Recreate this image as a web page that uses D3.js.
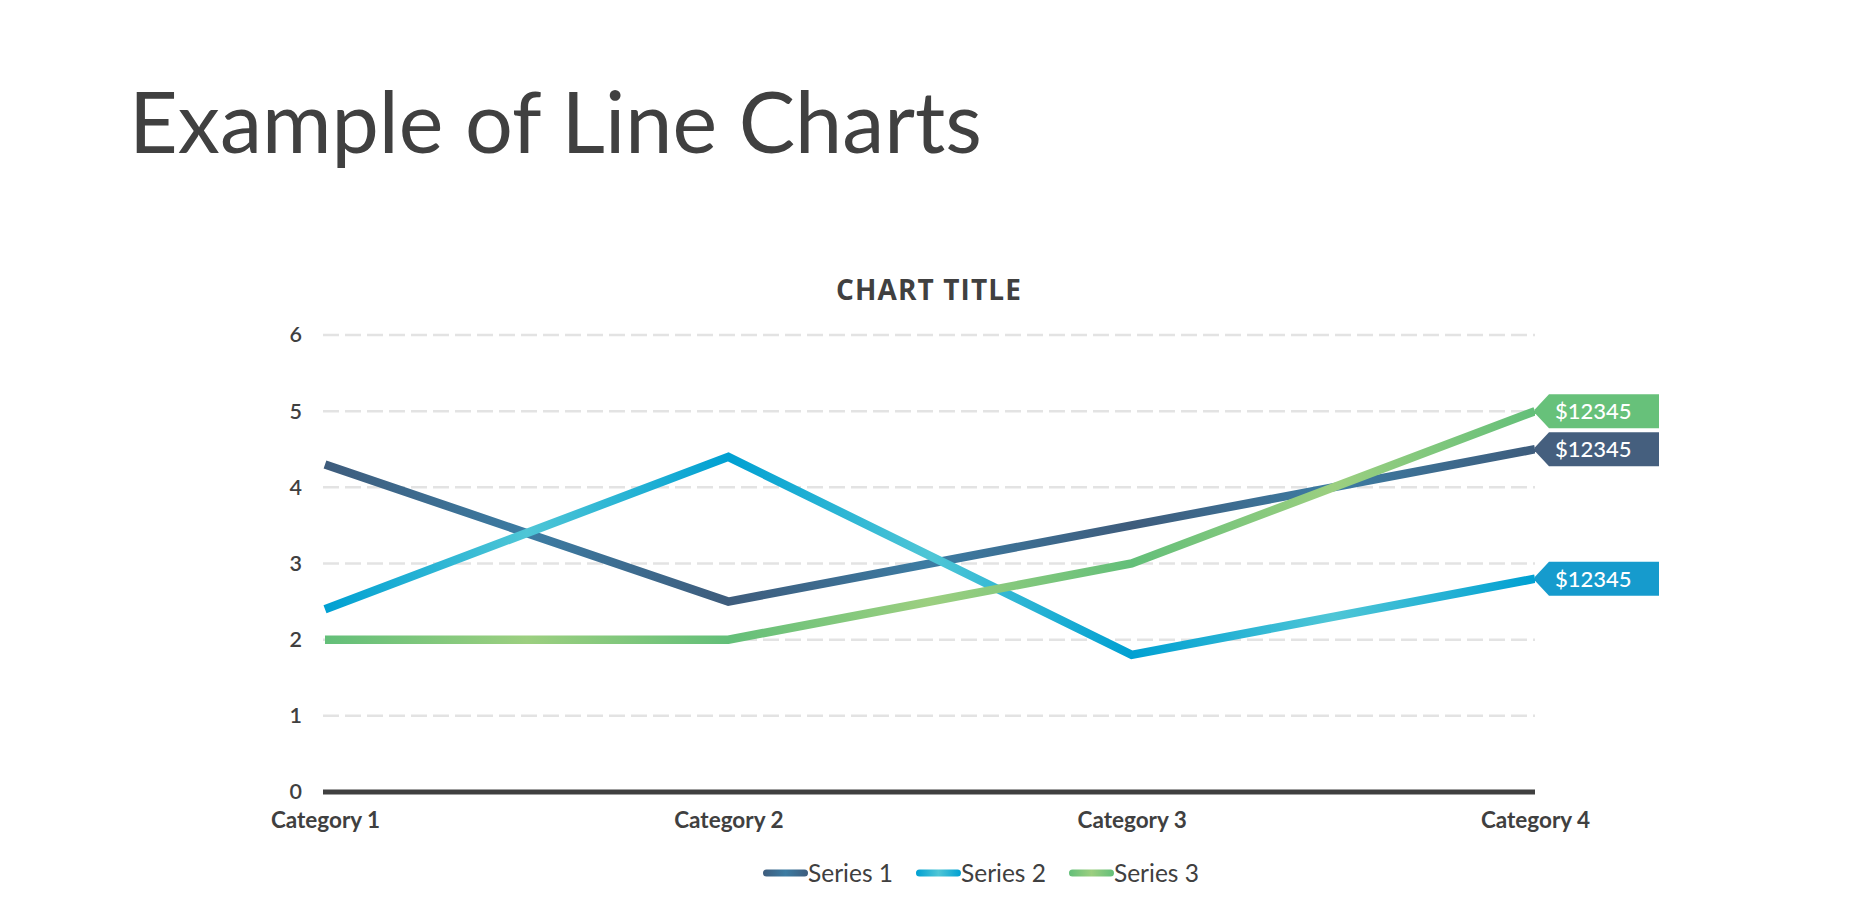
<!DOCTYPE html>
<html>
<head>
<meta charset="utf-8">
<script src="https://cdn.jsdelivr.net/npm/d3@7"></script>
<style>
  html, body { margin: 0; padding: 0; background: #ffffff; }
  svg { display: block; }
</style>
</head>
<body>
<svg id="chart" width="1863" height="908"></svg>
<script>
// ---- data ----
const pageTitle = "Example of Line Charts";
const chartTitle = "CHART TITLE";
const categories = ["Category 1", "Category 2", "Category 3", "Category 4"];
const seriesNames = ["Series 1", "Series 2", "Series 3"];
const series1 = [4.3, 2.5, 3.5, 4.5];
const series2 = [2.4, 4.4, 1.8, 2.8];
const series3 = [2.0, 2.0, 3.0, 5.0];
const yTicks = [0, 1, 2, 3, 4, 5, 6];
const endLabels = ["$12345", "$12345", "$12345"];

// ---- styles ----
const darkColors  = ["#3e5c7c", "#00a0d2", "#63bf79"];
const lightColors = ["#3c7ca3", "#4fc6d6", "#9ccf80"];
const tagColors   = ["#455f7e", "#169bcd", "#67c17a"];
const textColor = "#404040";

const svg = d3.select("#chart");
const defs = svg.append("defs");

const x = d3.scalePoint().domain(categories).range([325, 1535]);
const y = d3.scaleLinear().domain([0, 6]).range([792, 335]);
const plotLeft = 323, plotRight = 1535;
const xLast = x(categories[categories.length - 1]);

const allSeries = [series1, series2, series3].map((vals, i) => ({
  name: seriesNames[i], values: vals, i
}));

// page title
svg.append("text")
  .attr("x", 129).attr("y", 153)
  .attr("font-family", "Lato, sans-serif")
  .attr("font-size", 84.5).attr("font-weight", 400)
  .attr("fill", textColor)
  .text(pageTitle);

// chart title
svg.append("text")
  .attr("x", (plotLeft + plotRight) / 2).attr("y", 300)
  .attr("text-anchor", "middle")
  .attr("font-family", "'Open Sans', sans-serif")
  .attr("font-size", 28).attr("font-weight", 700)
  .attr("letter-spacing", 1.1)
  .attr("fill", textColor)
  .text(chartTitle);

// gridlines
svg.append("g")
  .selectAll("line")
  .data(yTicks.filter(d => d > 0))
  .join("line")
  .attr("x1", plotLeft).attr("x2", plotRight)
  .attr("y1", d => y(d)).attr("y2", d => y(d))
  .attr("stroke", "#e3e3e3")
  .attr("stroke-width", 2.5)
  .attr("stroke-dasharray", "16 6");

// y axis labels
const yAxis = svg.append("g")
  .attr("transform", `translate(${plotLeft},0)`)
  .call(d3.axisLeft(y).tickValues(yTicks).tickSize(0).tickPadding(21).tickFormat(d3.format("d")));
yAxis.select(".domain").remove();
yAxis.selectAll("text")
  .attr("font-family", "Lato, sans-serif")
  .attr("font-size", 21.5).attr("font-weight", 600)
  .attr("fill", textColor);

// x axis labels
const xAxis = svg.append("g")
  .attr("transform", `translate(0,${y(0)})`)
  .call(d3.axisBottom(x).tickSize(0));
xAxis.select(".domain").remove();
xAxis.selectAll("text")
  .attr("y", 28).attr("dy", "0.35em")
  .attr("font-family", "Lato, sans-serif")
  .attr("font-size", 22.5).attr("font-weight", 700)
  .attr("fill", textColor);

// gradients for lines (dark at categories, light between)
allSeries.forEach(s => {
  const g = defs.append("linearGradient")
    .attr("id", "lg" + s.i)
    .attr("gradientUnits", "userSpaceOnUse")
    .attr("x1", x(categories[0])).attr("x2", xLast)
    .attr("y1", 0).attr("y2", 0);
  const n = categories.length - 1;
  for (let k = 0; k <= 2 * n; k++) {
    g.append("stop")
      .attr("offset", k / (2 * n))
      .attr("stop-color", k % 2 === 0 ? darkColors[s.i] : lightColors[s.i]);
  }
  const lg = defs.append("linearGradient")
    .attr("id", "leg" + s.i)
    .attr("x1", 0).attr("x2", 1).attr("y1", 0).attr("y2", 0);
  lg.append("stop").attr("offset", 0).attr("stop-color", darkColors[s.i]);
  lg.append("stop").attr("offset", 0.5).attr("stop-color", lightColors[s.i]);
  lg.append("stop").attr("offset", 1).attr("stop-color", darkColors[s.i]);
});

defs.append("clipPath").attr("id", "plotclip")
  .append("rect")
  .attr("x", plotLeft).attr("y", 0)
  .attr("width", xLast - plotLeft).attr("height", 908);

// axis baseline
svg.append("line")
  .attr("x1", plotLeft).attr("x2", plotRight)
  .attr("y1", y(0)).attr("y2", y(0))
  .attr("stroke", "#404040").attr("stroke-width", 5);

// lines
const line = d3.line()
  .x((d, k) => x(categories[k]))
  .y(d => y(d));

svg.append("g").attr("clip-path", "url(#plotclip)")
  .selectAll("path")
  .data(allSeries)
  .join("path")
  .attr("d", s => line(s.values))
  .attr("fill", "none")
  .attr("stroke", s => `url(#lg${s.i})`)
  .attr("stroke-width", 8.5)
  .attr("stroke-linejoin", "miter")
  .attr("stroke-linecap", "butt");

// end tags
const tagH = 34, tagW = 124, tip = 14;
const tags = svg.append("g")
  .selectAll("g")
  .data(allSeries)
  .join("g")
  .attr("transform", s => `translate(${xLast},${y(s.values[s.values.length - 1])})`);
tags.append("path")
  .attr("d", `M${tip},${-tagH / 2} L0,-2 L0,2 L${tip},${tagH / 2} L${tagW},${tagH / 2} L${tagW},${-tagH / 2} Z`)
  .attr("fill", s => tagColors[s.i]);
tags.append("text")
  .attr("x", 20).attr("dy", "0.36em")
  .attr("font-family", "Lato, sans-serif")
  .attr("font-size", 22).attr("font-weight", 500)
  .attr("fill", "#ffffff")
  .text(s => endLabels[s.i]);

// legend
const legend = svg.append("g");
let lx = 763;
allSeries.forEach(s => {
  legend.append("rect")
    .attr("x", lx).attr("y", 873 - 3.5)
    .attr("width", 45).attr("height", 7)
    .attr("rx", 3.5)
    .attr("fill", `url(#leg${s.i})`);
  const tx = legend.append("text")
    .attr("x", lx + 45).attr("y", 873).attr("dy", "0.35em")
    .attr("font-family", "Lato, sans-serif")
    .attr("font-size", 24.5).attr("font-weight", 400)
    .attr("fill", textColor)
    .text(s.name);
  lx += 45 + tx.node().getComputedTextLength() + 23;
});
</script>
</body>
</html>
